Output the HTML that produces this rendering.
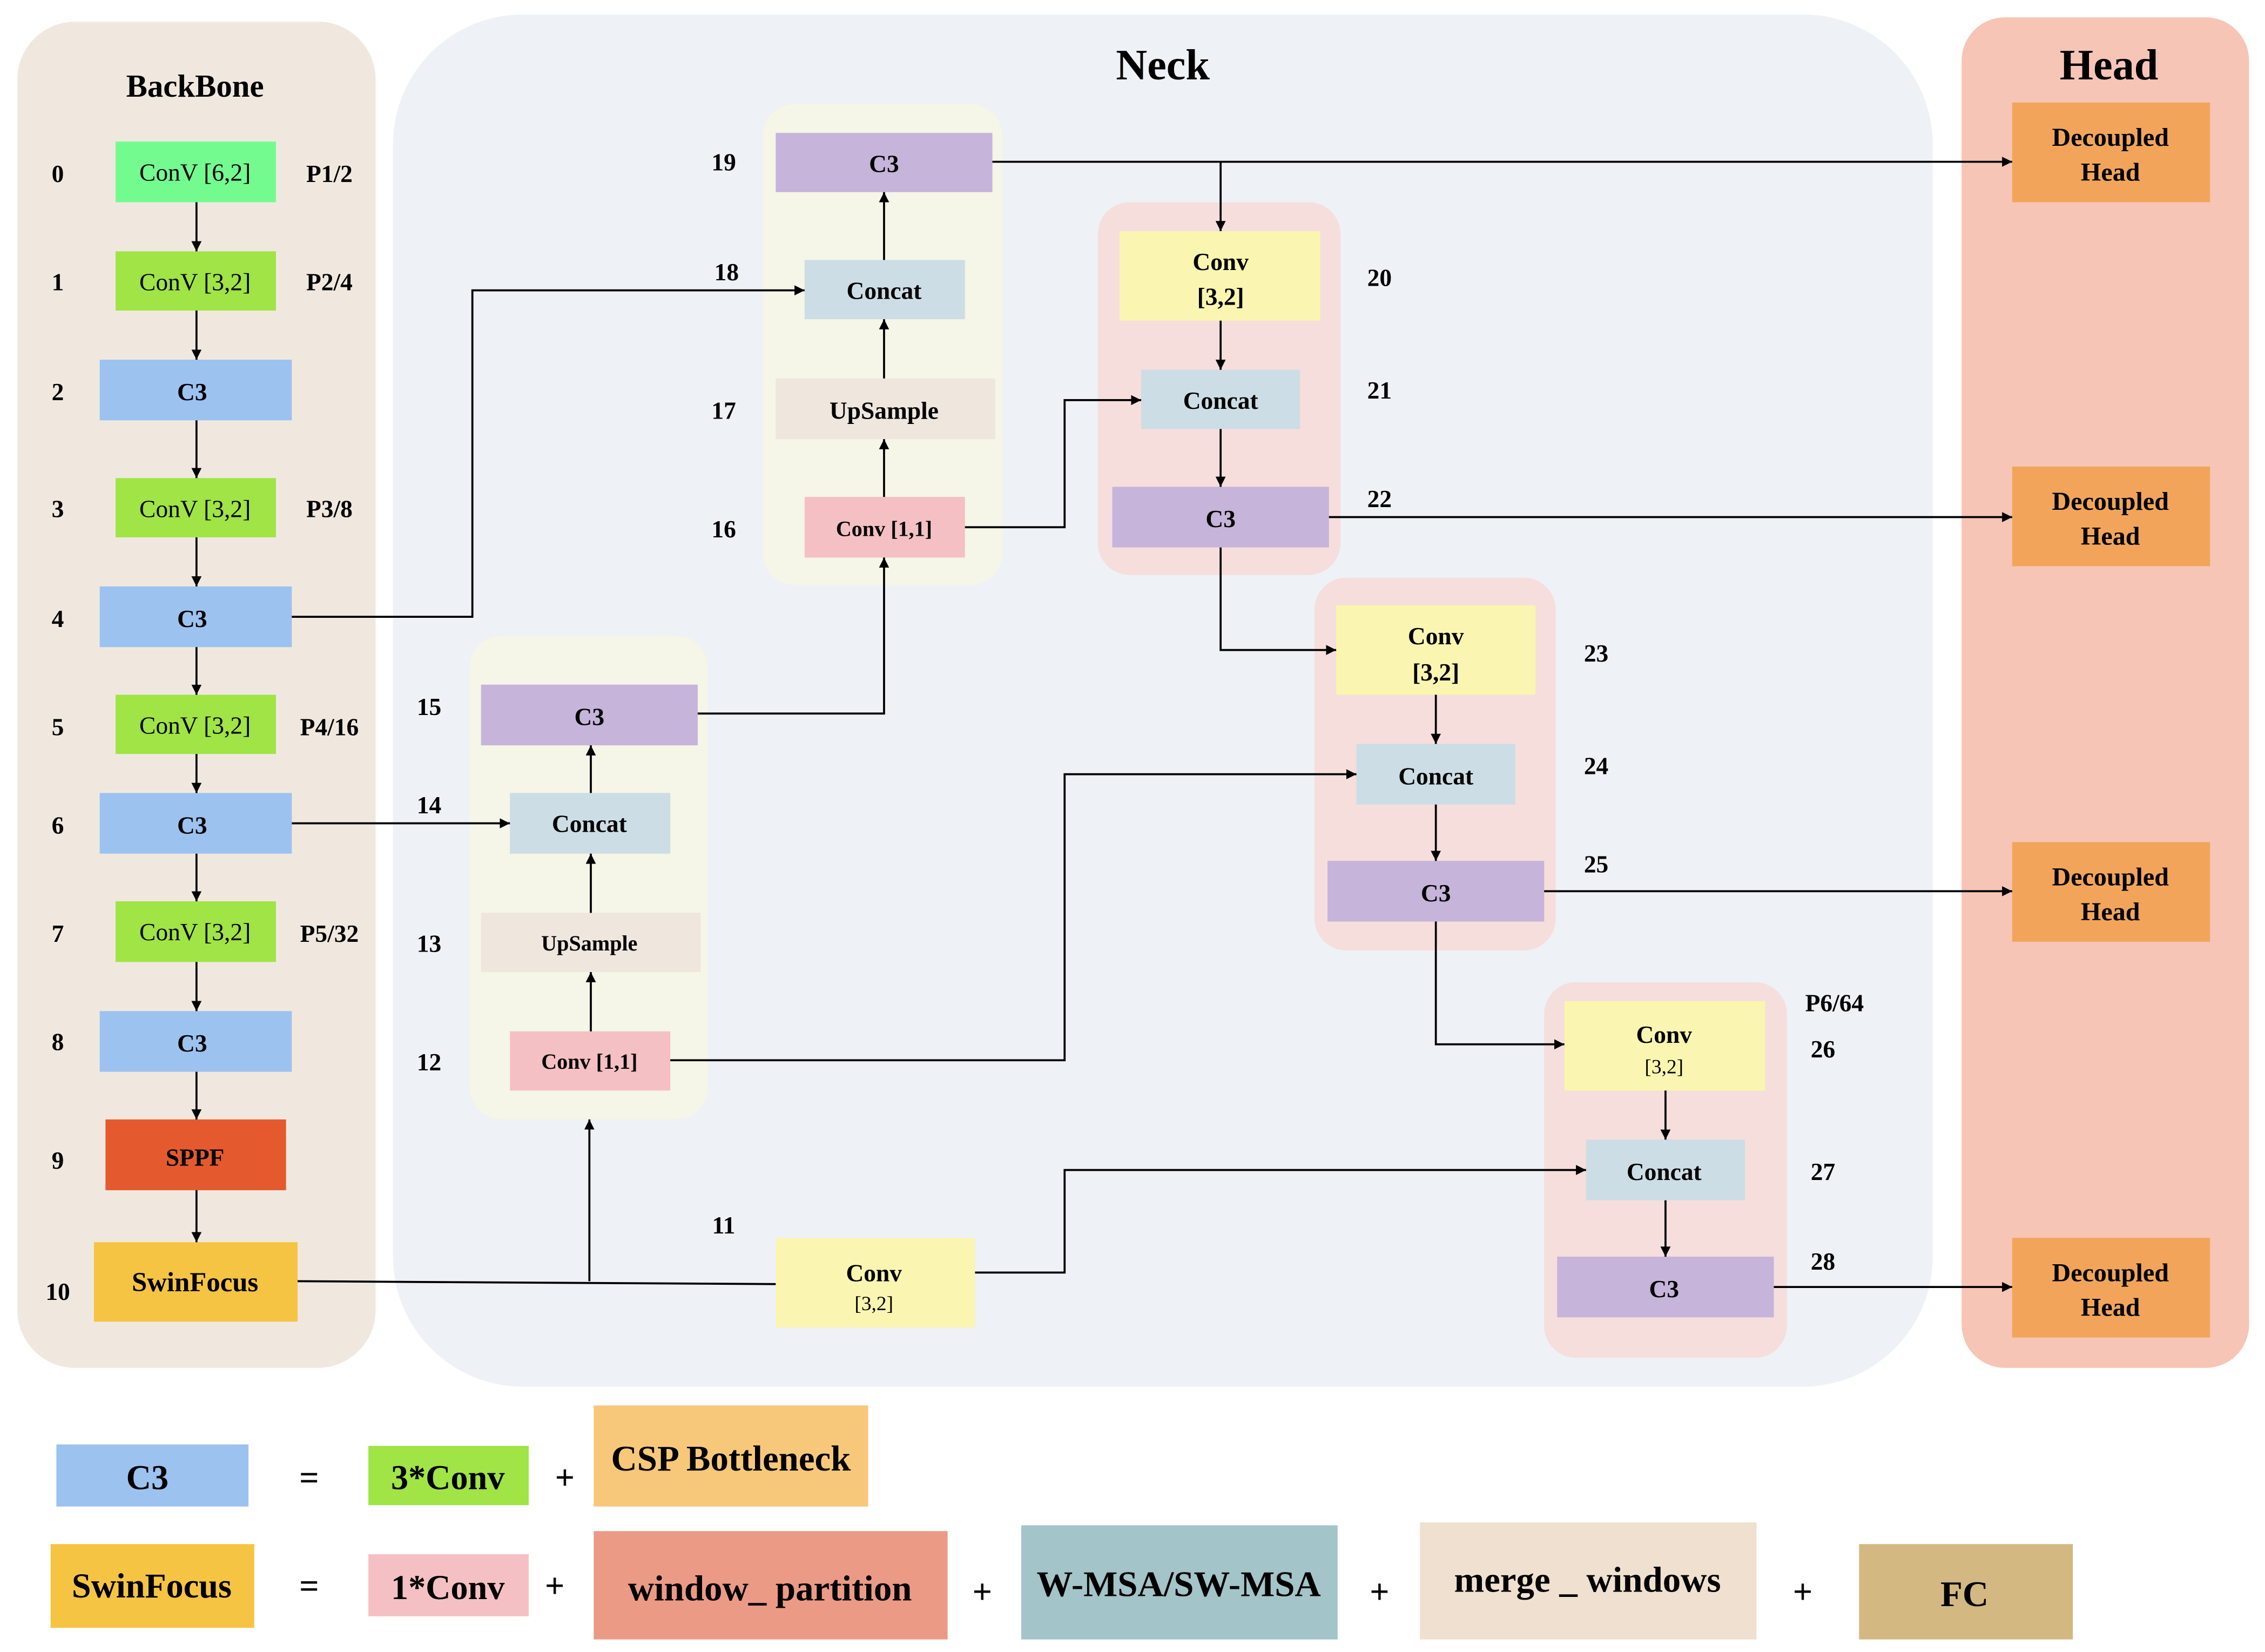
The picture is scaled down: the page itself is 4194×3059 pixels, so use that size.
<!DOCTYPE html>
<html><head><meta charset="utf-8"><style>
html,body{margin:0;padding:0;background:#fff;}
svg{display:block;}
text{font-family:"Liberation Serif",serif;fill:#000;}
</style></head><body>
<svg width="4194" height="3059" viewBox="0 0 1568 1143.7" xmlns="http://www.w3.org/2000/svg">
<defs>
<marker id="a" viewBox="0 0 10 10" refX="10" refY="5" markerWidth="7" markerHeight="7" markerUnits="userSpaceOnUse" orient="auto"><path d="M0,0 L10,5 L0,10 z" fill="#000"/></marker>
</defs>
<!-- panels -->
<rect x="12" y="15" width="248" height="932" rx="40" fill="#f0e8df"/>
<rect x="272" y="10" width="1066" height="950" rx="90" fill="#eef1f6"/>
<rect x="1358" y="12" width="199" height="935" rx="30" fill="#f6c5b6"/>
<text x="135" y="67" font-size="22" font-weight="bold" text-anchor="middle">BackBone</text>
<text x="805" y="55" font-size="30" font-weight="bold" text-anchor="middle">Neck</text>
<text x="1460" y="55" font-size="30" font-weight="bold" text-anchor="middle">Head</text>

<!-- group backgrounds -->
<rect x="325" y="440" width="165" height="335" rx="22" fill="#f5f5e8"/>
<rect x="528" y="72" width="166" height="333" rx="22" fill="#f5f5e8"/>
<rect x="760" y="140" width="168" height="258" rx="22" fill="#f6dedd"/>
<rect x="910" y="400" width="167" height="258" rx="22" fill="#f6dedd"/>
<rect x="1069" y="680" width="168" height="260" rx="22" fill="#f6dedd"/>

<g font-size="17" text-anchor="middle">
<!-- backbone boxes -->
<rect x="80" y="98" width="111" height="42" fill="#74fb90"/><text x="135" y="125">ConV [6,2]</text>
<rect x="80" y="174" width="111" height="41" fill="#a0e445"/><text x="135" y="201">ConV [3,2]</text>
<rect x="69" y="249" width="133" height="42" fill="#9cc2f0"/><text x="133" y="277" font-weight="bold">C3</text>
<rect x="80" y="331" width="111" height="41" fill="#a0e445"/><text x="135" y="358">ConV [3,2]</text>
<rect x="69" y="406" width="133" height="42" fill="#9cc2f0"/><text x="133" y="434" font-weight="bold">C3</text>
<rect x="80" y="481" width="111" height="41" fill="#a0e445"/><text x="135" y="508">ConV [3,2]</text>
<rect x="69" y="549" width="133" height="42" fill="#9cc2f0"/><text x="133" y="577" font-weight="bold">C3</text>
<rect x="80" y="624" width="111" height="42" fill="#a0e445"/><text x="135" y="651">ConV [3,2]</text>
<rect x="69" y="700" width="133" height="42" fill="#9cc2f0"/><text x="133" y="728" font-weight="bold">C3</text>
<rect x="73" y="775" width="125" height="49" fill="#e45a2e"/><text x="135" y="807" font-weight="bold">SPPF</text>
<rect x="65" y="860" width="141" height="55" fill="#f5c443"/><text x="135" y="894" font-weight="bold" font-size="19">SwinFocus</text>

<!-- group1 -->
<rect x="333" y="474" width="150" height="42" fill="#c6b4da"/><text x="408" y="502" font-weight="bold">C3</text>
<rect x="353" y="549" width="111" height="42" fill="#ccdde5"/><text x="408" y="576" font-weight="bold">Concat</text>
<rect x="333" y="632" width="152" height="41" fill="#efe6de"/><text x="408" y="658" font-size="15" font-weight="bold">UpSample</text>
<rect x="353" y="714" width="111" height="41" fill="#f5c0c3"/><text x="408" y="740" font-size="15" font-weight="bold">Conv [1,1]</text>
<!-- group2 -->
<rect x="537" y="92" width="150" height="41" fill="#c6b4da"/><text x="612" y="119" font-weight="bold">C3</text>
<rect x="557" y="180" width="111" height="41" fill="#ccdde5"/><text x="612" y="207" font-weight="bold">Concat</text>
<rect x="537" y="262" width="152" height="42" fill="#efe6de"/><text x="612" y="290" font-weight="bold">UpSample</text>
<rect x="557" y="344" width="111" height="42" fill="#f5c0c3"/><text x="612" y="371" font-size="15" font-weight="bold">Conv [1,1]</text>
<!-- group3 -->
<rect x="775" y="160" width="139" height="62" fill="#faf5b0"/><text x="845" y="187" font-weight="bold">Conv</text><text x="845" y="211" font-weight="bold">[3,2]</text>
<rect x="790" y="256" width="110" height="41" fill="#ccdde5"/><text x="845" y="283" font-weight="bold">Concat</text>
<rect x="770" y="337" width="150" height="42" fill="#c6b4da"/><text x="845" y="365" font-weight="bold">C3</text>
<!-- group4 -->
<rect x="925" y="419" width="138" height="62" fill="#faf5b0"/><text x="994" y="446" font-weight="bold">Conv</text><text x="994" y="471" font-weight="bold">[3,2]</text>
<rect x="939" y="515" width="110" height="42" fill="#ccdde5"/><text x="994" y="543" font-weight="bold">Concat</text>
<rect x="919" y="596" width="150" height="42" fill="#c6b4da"/><text x="994" y="624" font-weight="bold">C3</text>
<!-- group5 -->
<rect x="1083" y="693" width="139" height="62" fill="#faf5b0"/><text x="1152" y="722" font-weight="bold">Conv</text><text x="1152" y="743" font-size="14">[3,2]</text>
<rect x="1098" y="789" width="110" height="42" fill="#ccdde5"/><text x="1152" y="817" font-weight="bold">Concat</text>
<rect x="1078" y="870" width="150" height="42" fill="#c6b4da"/><text x="1152" y="898" font-weight="bold">C3</text>
<!-- conv11 -->
<rect x="537" y="857" width="138" height="62" fill="#faf5b0"/><text x="605" y="887" font-weight="bold">Conv</text><text x="605" y="907" font-size="14">[3,2]</text>
<!-- heads -->
<g fill="#f2a55a">
<rect x="1393" y="71" width="137" height="69"/><rect x="1393" y="323" width="137" height="69"/><rect x="1393" y="583" width="137" height="69"/><rect x="1393" y="857" width="137" height="69"/>
</g>
<g font-weight="bold" font-size="18">
<text x="1461" y="101">Decoupled</text><text x="1461" y="125">Head</text>
<text x="1461" y="353">Decoupled</text><text x="1461" y="377">Head</text>
<text x="1461" y="613">Decoupled</text><text x="1461" y="637">Head</text>
<text x="1461" y="887">Decoupled</text><text x="1461" y="911">Head</text>
</g>
</g>

<!-- labels -->
<g font-size="17" font-weight="bold" text-anchor="middle">
<text x="40" y="126">0</text><text x="40" y="201">1</text><text x="40" y="277">2</text><text x="40" y="358">3</text><text x="40" y="434">4</text><text x="40" y="509">5</text><text x="40" y="577">6</text><text x="40" y="652">7</text><text x="40" y="727">8</text><text x="40" y="809">9</text><text x="40" y="900">10</text>
<text x="228" y="126">P1/2</text><text x="228" y="201">P2/4</text><text x="228" y="358">P3/8</text><text x="228" y="509">P4/16</text><text x="228" y="652">P5/32</text>
<text x="297" y="495">15</text><text x="297" y="563">14</text><text x="297" y="659">13</text><text x="297" y="741">12</text>
<text x="501" y="118">19</text><text x="503" y="194">18</text><text x="501" y="290">17</text><text x="501" y="372">16</text><text x="501" y="854">11</text>
<text x="955" y="198">20</text><text x="955" y="276">21</text><text x="955" y="351">22</text>
<text x="1105" y="458">23</text><text x="1105" y="536">24</text><text x="1105" y="604">25</text>
<text x="1270" y="700">P6/64</text><text x="1262" y="732">26</text><text x="1262" y="817">27</text><text x="1262" y="879">28</text>
</g>

<!-- connectors -->
<g stroke="#000" stroke-width="1.4" fill="none" marker-end="url(#a)">
<line x1="136" y1="140" x2="136" y2="174"/>
<line x1="136" y1="215" x2="136" y2="249"/>
<line x1="136" y1="291" x2="136" y2="331"/>
<line x1="136" y1="372" x2="136" y2="406"/>
<line x1="136" y1="448" x2="136" y2="481"/>
<line x1="136" y1="522" x2="136" y2="549"/>
<line x1="136" y1="591" x2="136" y2="624"/>
<line x1="136" y1="666" x2="136" y2="700"/>
<line x1="136" y1="742" x2="136" y2="775"/>
<line x1="136" y1="824" x2="136" y2="860"/>
<polyline points="202,427 327,427 327,201 557,201"/>
<line x1="202" y1="570" x2="353" y2="570"/>
<line x1="408" y1="887" x2="408" y2="775"/>
<polyline points="675,881 737,881 737,810 1098,810"/>
<polyline points="464,734 737,734 737,536 939,536"/>
<line x1="409" y1="714" x2="409" y2="673"/>
<line x1="409" y1="632" x2="409" y2="591"/>
<line x1="409" y1="549" x2="409" y2="516"/>
<polyline points="483,494 612,494 612,386"/>
<line x1="612" y1="344" x2="612" y2="304"/>
<line x1="612" y1="262" x2="612" y2="221"/>
<line x1="612" y1="180" x2="612" y2="133"/>
<polyline points="668,365 737,365 737,277 790,277"/>
<line x1="687" y1="112" x2="1393" y2="112"/>
<line x1="845" y1="112" x2="845" y2="160"/>
<line x1="845" y1="222" x2="845" y2="256"/>
<line x1="845" y1="297" x2="845" y2="337"/>
<line x1="920" y1="358" x2="1393" y2="358"/>
<polyline points="845,379 845,450 925,450"/>
<line x1="994" y1="481" x2="994" y2="515"/>
<line x1="994" y1="557" x2="994" y2="596"/>
<line x1="1069" y1="617" x2="1393" y2="617"/>
<polyline points="994,638 994,723 1083,723"/>
<line x1="1153" y1="755" x2="1153" y2="789"/>
<line x1="1153" y1="831" x2="1153" y2="870"/>
<line x1="1228" y1="891" x2="1393" y2="891"/>
</g>
<line x1="206" y1="887" x2="537" y2="889" stroke="#000" stroke-width="1.4"/>

<!-- legend -->
<g text-anchor="middle" font-weight="bold">
<rect x="39" y="1000" width="133" height="43" fill="#9cc2f0"/><text x="102" y="1031" font-size="24">C3</text>
<text x="214" y="1031" font-size="24" fill="#666">=</text>
<rect x="255" y="1001" width="111" height="41" fill="#a0e445"/><text x="310" y="1031" font-size="24">3*Conv</text>
<text x="391" y="1031" font-size="24" fill="#666">+</text>
<rect x="411" y="973" width="190" height="70" fill="#f8c87a"/><text x="506" y="1018" font-size="25">CSP Bottleneck</text>
<rect x="35" y="1069" width="141" height="58" fill="#f5c443"/><text x="105" y="1106" font-size="24">SwinFocus</text>
<text x="214" y="1106" font-size="24" fill="#666">=</text>
<rect x="255" y="1076" width="111" height="43" fill="#f5c0c3"/><text x="310" y="1107" font-size="24">1*Conv</text>
<text x="384" y="1106" font-size="24" fill="#666">+</text>
<rect x="411" y="1060" width="245" height="75" fill="#eb9a86"/><text x="533" y="1108" font-size="25">window_ partition</text>
<text x="680" y="1110" font-size="24" fill="#333">+</text>
<rect x="707" y="1056" width="219" height="79" fill="#a3c4c8"/><text x="816" y="1105" font-size="25">W-MSA/SW-MSA</text>
<text x="955" y="1110" font-size="24" fill="#666">+</text>
<rect x="983" y="1054" width="233" height="81" fill="#f0e0cf"/><text x="1099" y="1102" font-size="25">merge _ windows</text>
<text x="1248" y="1110" font-size="24" fill="#666">+</text>
<rect x="1287" y="1069" width="148" height="66" fill="#d4b882"/><text x="1360" y="1112" font-size="25">FC</text>
</g>
</svg>
</body></html>
